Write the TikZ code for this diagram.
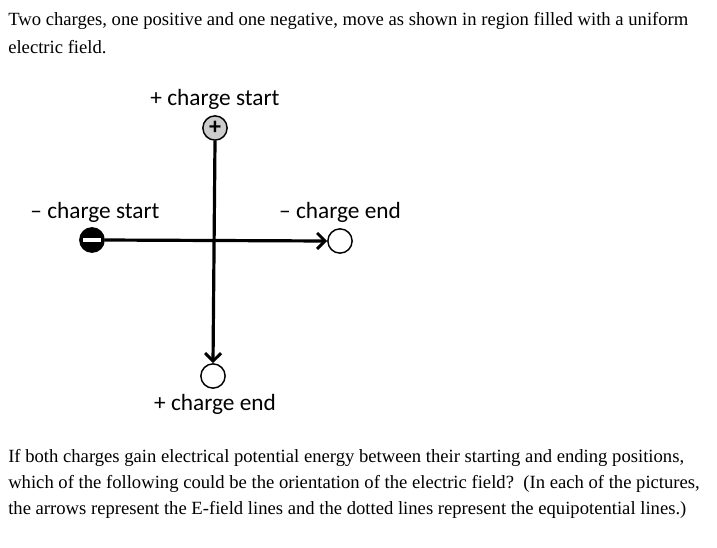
\documentclass[tikz,border=0pt]{standalone}
\usepackage{fontspec}
\setmainfont{Liberation Serif}
\newfontfamily\calib{Carlito}
\usetikzlibrary{arrows.meta}
\tikzset{
  para/.style={anchor=west, font=\fontsize{14}{16}\selectfont, inner sep=0pt},
  lab/.style={font=\calib\fontsize{17.5}{20}\selectfont, inner sep=0pt},
  ring/.style={circle, draw, line width=1.1pt, minimum size=0.64cm, inner sep=0pt},
  path/.style={line width=2.4pt, -{Straight Barb[length=6pt,width=12pt,line width=2.2pt]}}
}
\begin{document}
\begin{tikzpicture}[x=0.0264cm, y=-0.0264cm]
    \useasboundingbox (0,0) rectangle (717,547);

    % Frage oben
    \node[para] (q1) at (8,21) {Two charges, one positive and one negative, move as shown in region filled with a uniform};
    \node[para] (q2) at (8,47) {electric field.};

    % Ladungen
    \node[ring, fill=gray!40, font=\calib\bfseries\fontsize{18}{18}\selectfont] (pstart) at (215,128) {+};
    \node[ring] (pend) at (213,376) {};
    \node[ring, fill=black] (nstart) at (92,240) {};
    \fill[white] ([xshift=-6.5pt,yshift=-1.6pt]nstart.center) rectangle ([xshift=6.5pt,yshift=1.6pt]nstart.center);
    \node[ring] (nend) at (340,241) {};

    % Beschriftungen
    \node[lab] (lps) at (215,99) {+ charge start};
    \node[lab] (lpe) at (215,404) {+ charge end};
    \node[lab] (lns) at (95,212) {\textendash{} charge start};
    \node[lab] (lne) at (340,212) {\textendash{} charge end};

    % Bahnen
    \draw[path] (pstart.south) -- (pend.north);
    \draw[path] (nstart.east) -- (nend.west);

    % Frage unten
    \node[para] (q3) at (8,458) {If both charges gain electrical potential energy between their starting and ending positions,};
    \node[para] (q4) at (8,484) {which of the following could be the orientation of the electric field?\ \ (In each of the pictures,};
    \node[para] (q5) at (8,510) {the arrows represent the E-field lines and the dotted lines represent the equipotential lines.)};
\end{tikzpicture}
\end{document}
